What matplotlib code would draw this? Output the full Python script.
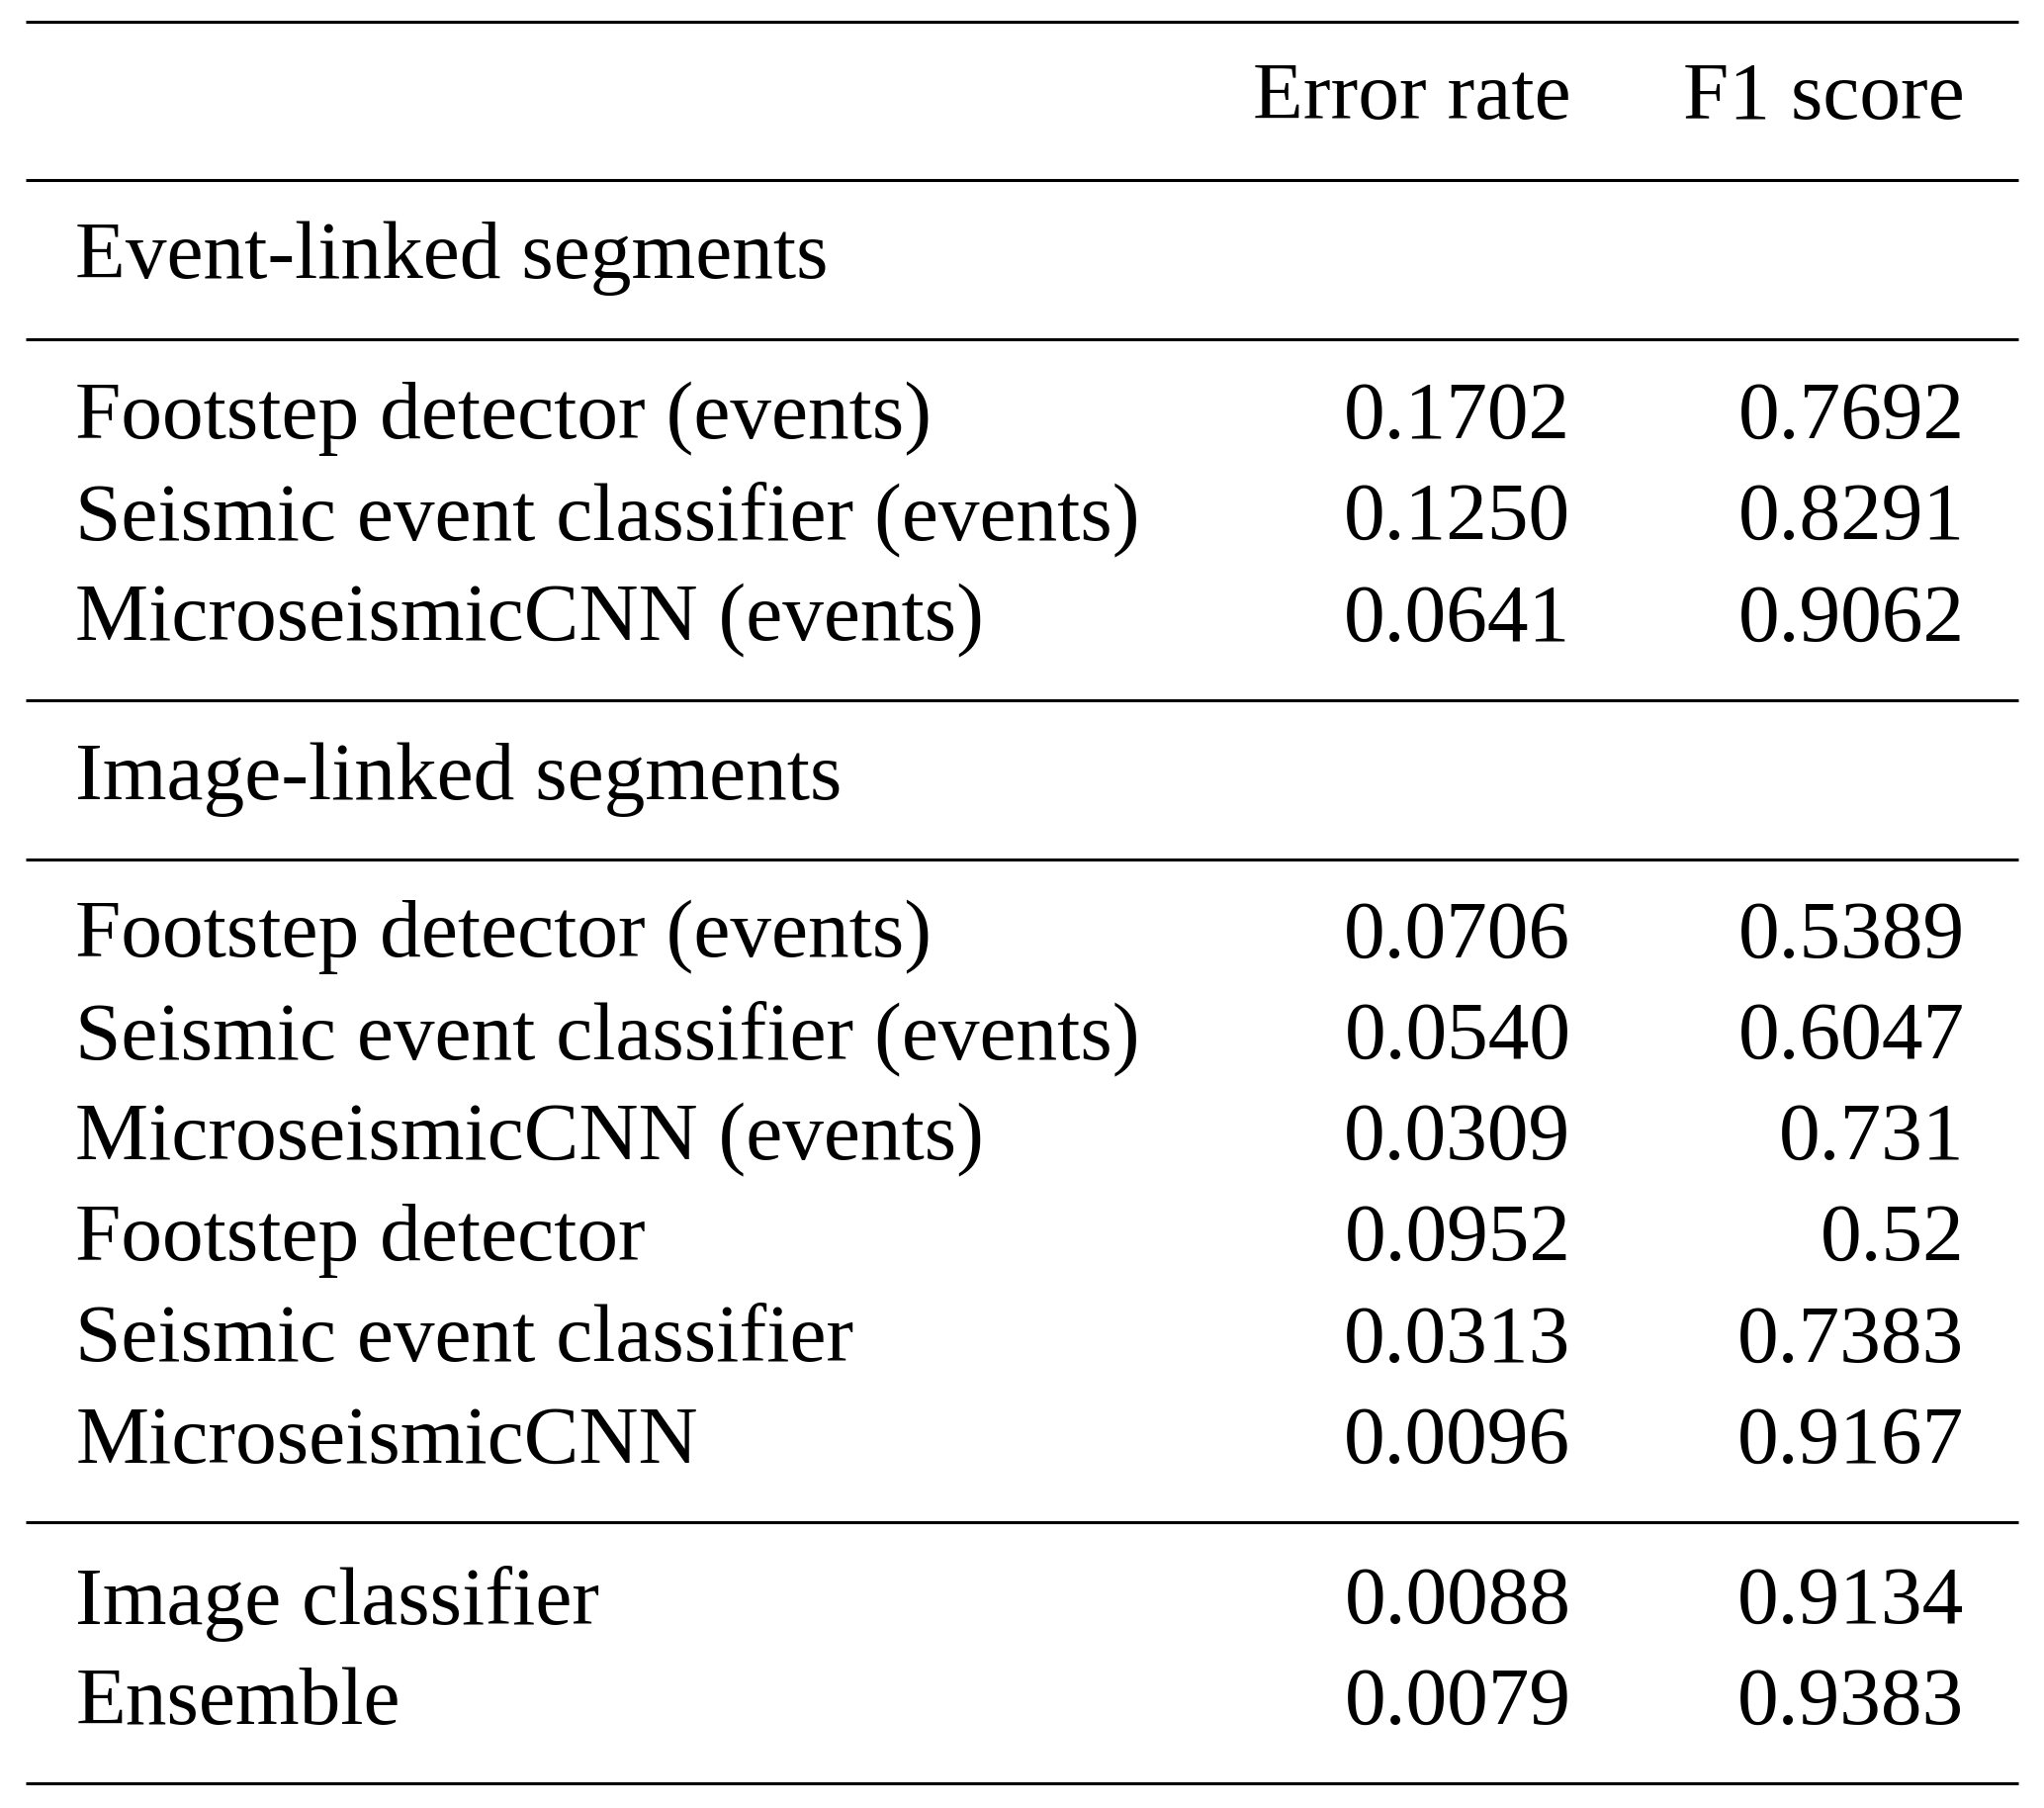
import matplotlib.pyplot as plt

# table contents
columns = ["Error rate", "F1 score"]
group1_title = "Event-linked segments"
group1_labels = ["Footstep detector (events)", "Seismic event classifier (events)", "MicroseismicCNN (events)"]
group1_err = ["0.1702", "0.1250", "0.0641"]
group1_f1 = ["0.7692", "0.8291", "0.9062"]
group2_title = "Image-linked segments"
group2_labels = ["Footstep detector (events)", "Seismic event classifier (events)", "MicroseismicCNN (events)",
                 "Footstep detector", "Seismic event classifier", "MicroseismicCNN"]
group2_err = ["0.0706", "0.0540", "0.0309", "0.0952", "0.0313", "0.0096"]
group2_f1 = ["0.5389", "0.6047", "0.731", "0.52", "0.7383", "0.9167"]
group3_labels = ["Image classifier", "Ensemble"]
group3_err = ["0.0088", "0.0079"]
group3_f1 = ["0.9134", "0.9383"]

plt.rcParams["font.family"] = "Liberation Serif"
fig = plt.figure(figsize=(20.67, 18.28), dpi=100)
ax = fig.add_axes([0, 0, 1, 1])
ax.set_xlim(0, 1568)
ax.set_ylim(1387, 0)
ax.axis("off")

fs = 60
x_lab, x_err, x_f1 = 58, 1205, 1507
rule_x = (20, 1548)
row_h = 77.6
dy = 3


def rule(y):
    ax.plot(rule_x, [y, y], color="black", lw=2.2, solid_capstyle="butt")


def txt(x, y, s, ha):
    ax.text(x, y + dy, s, fontsize=fs, va="center", ha=ha)


def rows(y0, labels, errs, f1s):
    for i, (l, e, f) in enumerate(zip(labels, errs, f1s)):
        y = y0 + i * row_h
        txt(x_lab, y, l, "left")
        txt(x_err, y, e, "right")
        txt(x_f1, y, f, "right")


rule(17)
txt(x_err, 73, columns[0], "right")
txt(x_f1, 73, columns[1], "right")
rule(138)
txt(x_lab, 195, group1_title, "left")
rule(260)
rows(318, group1_labels, group1_err, group1_f1)
rule(537)
txt(x_lab, 595, group2_title, "left")
rule(659)
rows(716, group2_labels, group2_err, group2_f1)
rule(1168)
rows(1227, group3_labels, group3_err, group3_f1)
rule(1368)

fig.savefig("out.png", dpi=100)
